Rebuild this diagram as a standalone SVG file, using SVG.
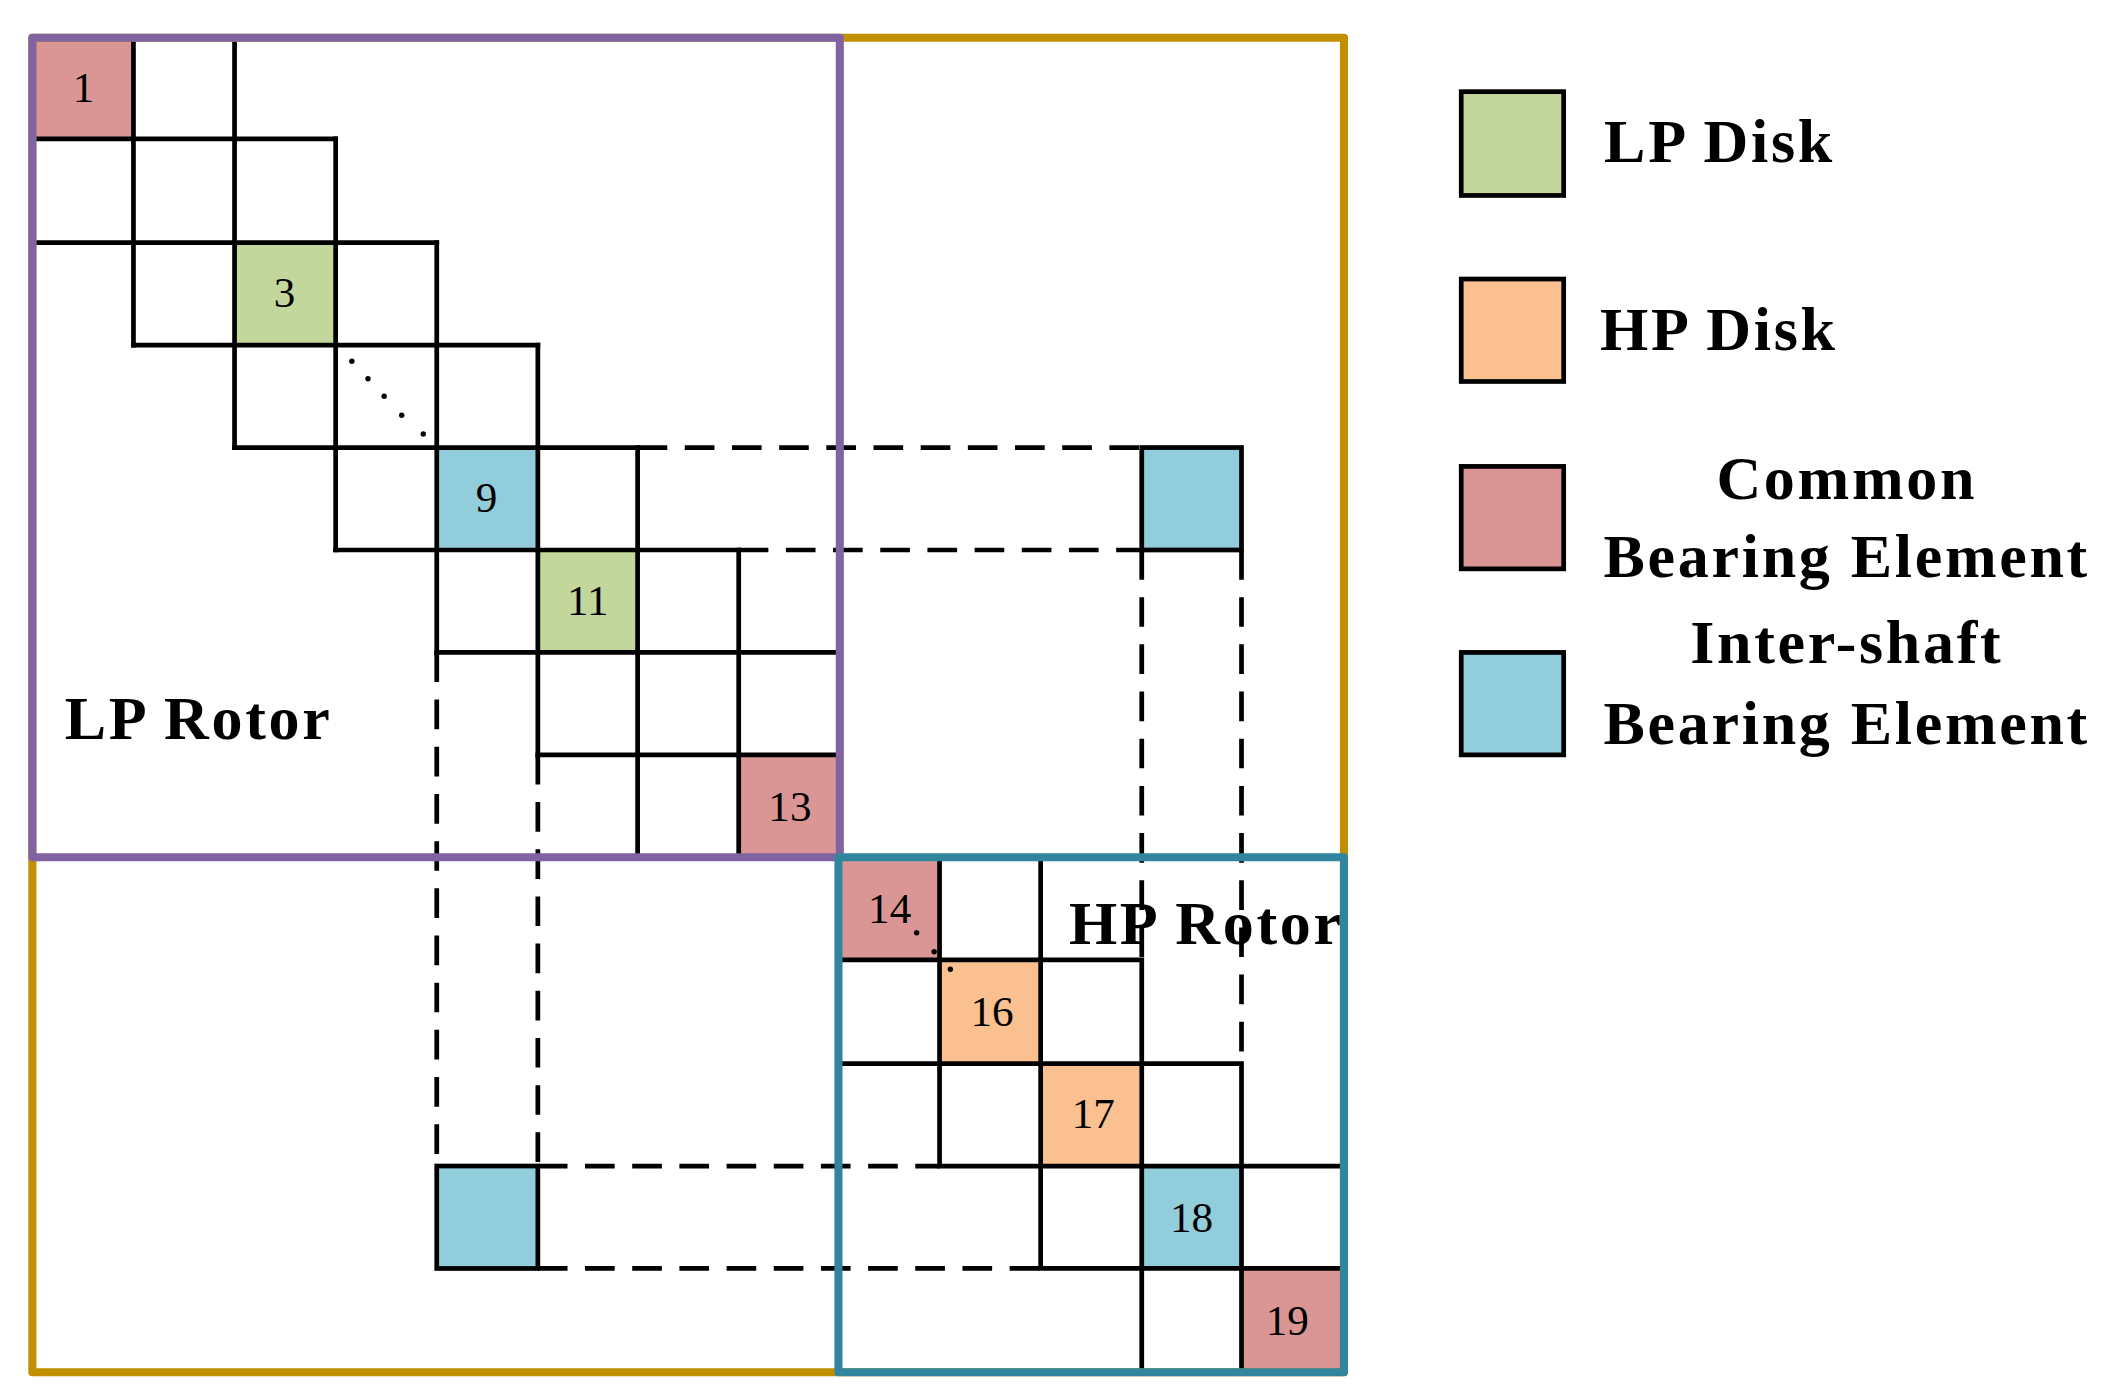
<svg xmlns="http://www.w3.org/2000/svg" width="2103" height="1400" viewBox="0 0 2103 1400">
<style>
.g{stroke:#000;stroke-width:3.5;fill:none;stroke-linecap:square}
.d{stroke:#000;stroke-width:3.5;fill:none;stroke-dasharray:22 13}
.n{font-family:"Liberation Serif",serif;font-size:32px;text-anchor:middle}
.b{font-family:"Liberation Serif",serif;font-size:46px;font-weight:bold;letter-spacing:2px}
.c{text-anchor:middle}
</style>
<rect width="2103" height="1400" fill="#fff"/>
<g transform="scale(1.348)">
<g id="fills">
<rect x="24" y="28" width="75" height="75" fill="#D99694"/>
<rect x="174" y="180" width="75" height="76" fill="#C3D69B"/>
<rect x="324" y="332" width="75" height="76" fill="#92CDDC"/>
<rect x="399" y="408" width="74" height="76" fill="#C3D69B"/>
<rect x="548" y="560" width="74" height="76" fill="#D99694"/>
<rect x="622" y="636" width="75" height="76" fill="#D99694"/>
<rect x="697" y="712" width="75" height="77" fill="#FAC090"/>
<rect x="772" y="789" width="75" height="76" fill="#FAC090"/>
<rect x="847" y="865" width="74" height="76" fill="#92CDDC"/>
<rect x="921" y="941" width="76" height="77" fill="#D99694"/>
<rect x="847" y="332" width="74" height="76" style="fill:#92CDDC" class="g"/>
<rect x="324" y="865" width="75" height="76" style="fill:#92CDDC" class="g"/>
</g>
<g id="connectors">
<path class="g" d="M24 103H249M24 180H324M99 256H399M174 332H473M249 408H548M324 484H622M399 560H622"/>
<path class="g" d="M99 28V256M174 28V332M249 103V408M324 180V484M399 256V560M473 332V636M548 408V636"/>
<path class="g" d="M622 712H847M622 789H921M697 865H997M772 941H997M697 636V865M772 636V941M847 712V1018M921 789V1018"/>
<path class="d" d="M473 332H847M548 408H847M399 865H697M399 941H772M324 484V865M399 560V865M847 408V712M921 408V789"/>
<g fill="#000"><circle cx="261" cy="268" r="2"/><circle cx="273" cy="281" r="2"/><circle cx="285" cy="294" r="2"/><circle cx="298" cy="308" r="2"/><circle cx="314" cy="322" r="2"/><circle cx="680" cy="692" r="2"/><circle cx="693" cy="706" r="2"/><circle cx="705" cy="719" r="2"/></g>
</g>
<g id="frames" fill="none" stroke-width="6" stroke-linejoin="round">
<rect x="24" y="28" width="973" height="990" stroke="#C09000"/>
<rect x="24" y="28" width="599" height="608" stroke="#8064A2"/>
<rect x="622" y="636" width="375" height="382" stroke="#31859C"/>
</g>
<g id="labels">
<text class="n" x="62" y="76">1</text>
<text class="n" x="211" y="228">3</text>
<text class="n" x="361" y="380">9</text>
<text class="n" x="436" y="456">11</text>
<text class="n" x="586" y="609">13</text>
<text class="n" x="660" y="685">14</text>
<text class="n" x="736" y="761">16</text>
<text class="n" x="811" y="837">17</text>
<text class="n" x="884" y="914">18</text>
<text class="n" x="955" y="990">19</text>
<text class="b" x="48" y="548">LP Rotor</text>
<text class="b" x="793" y="700">HP Rotor</text>
</g>
<g id="legend" stroke="#000" stroke-width="3.5">
<rect x="1084" y="68" width="76" height="77" fill="#C3D69B"/>
<rect x="1084" y="207" width="76" height="76" fill="#FAC090"/>
<rect x="1084" y="346" width="76" height="76" fill="#D99694"/>
<rect x="1084" y="484" width="76" height="76" fill="#92CDDC"/>
</g>
<g id="legend-text">
<text class="b" x="1190" y="120">LP Disk</text>
<text class="b" x="1187" y="260">HP Disk</text>
<text class="b c" x="1370" y="370">Common</text>
<text class="b c" x="1370" y="428">Bearing Element</text>
<text class="b c" x="1370" y="492">Inter-shaft</text>
<text class="b c" x="1370" y="552">Bearing Element</text>
</g>
</g>
</svg>
